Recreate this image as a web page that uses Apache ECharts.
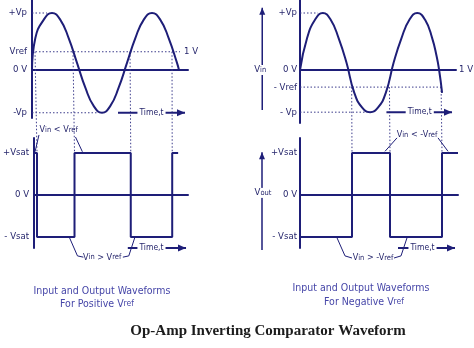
<!DOCTYPE html>
<html>
<head>
<meta charset="utf-8">
<script src="https://cdn.jsdelivr.net/npm/echarts@6/dist/echarts.min.js"></script>
<style>
  html, body { margin: 0; padding: 0; background: #fff; }
  #chart { width: 474px; height: 348px; }
</style>
</head>
<body>
<div id="chart"></div>
<script>
// Time in ms; input normalised so +Vp = 1, output normalised so +Vsat = 1.

// Positive Vref comparator: input sine and switching instants
const posInput = [[0, 0], [0.67, 0.56], [2.33, 0.88], [4.0, 1], [5.67, 0.88], [7.33, 0.56], [9.0, 0.125],
                  [10.67, -0.31], [12.33, -0.63], [14.0, -0.75], [15.67, -0.63], [17.33, -0.31], [19.0, 0.125],
                  [20.67, 0.56], [22.33, 0.88], [24.0, 1], [25.67, 0.88], [27.33, 0.56], [29.0, 0.125], [29.4, 0]];
const posVref = 0.32;
const posVp = 1;
const posVn = -0.75;
const posSwitchTimes = [0.6, 8.2, 19.6, 28.0];
const posOutStart = 1;
const posOutEnd = 29.2;

// Negative Vref comparator
const negInput = [[0, 0], [1.43, 0.56], [3.02, 0.88], [4.6, 1], [6.18, 0.88], [7.77, 0.56], [9.35, 0.13],
                  [10.93, -0.40], [12.52, -0.66], [14.1, -0.74], [15.68, -0.66], [17.27, -0.40], [18.85, 0.13],
                  [20.43, 0.56], [22.02, 0.88], [23.6, 1], [25.18, 0.88], [26.6, 0.56], [27.5, 0.24], [28.0, 0], [28.6, -0.40]];
const negVref = -0.30;
const negVp = 1;
const negVn = -0.74;
const negSwitchTimes = [10.4, 18.0, 28.4];
const negOutStart = -1;
const negOutEnd = 31.6;

// Tick labels
const posInTicks = [[posVp, '+Vp'], [posVref, 'Vref'], [0, '0 V'], [posVn, '-Vp']];
const negInTicks = [[negVp, '+Vp'], [0, '0 V'], [negVref, '- Vref'], [negVn, '- Vp']];
const outTicksLeft = [[1, '+Vsat'], [0, '0 V'], [-1, '- Vsat']];
const outTicksRight = [[1, '+Vsat'], [0, '0 V'], [-1, '- Vsat']];

// Guide line extents (ms)
const posGuideEnds = { vp: 3.0, vref: 29.6, vn: 13.2 };
const negGuideEnds = { vp: 3.6, vref: 28.6, vn: 13.6 };

const INK = '#1e1e78';
const DOT = '#3c3c8c';
const LABEL = '#26266c';
const CAPTION = '#4646a8';
const FONT = "'DejaVu Sans Condensed', 'Liberation Sans', sans-serif";

function squareWave(start, switches, end) {
  let lvl = start;
  const pts = [[0, lvl]];
  switches.forEach(t => { pts.push([t, lvl]); lvl = -lvl; pts.push([t, lvl]); });
  pts.push([end, lvl]);
  return pts;
}

function tickAxis(grid, min, max, ticks, margin) {
  return {
    type: 'value', gridIndex: grid, min: min, max: max,
    axisLine: { show: true, lineStyle: { color: INK, width: 2 } },
    axisTick: { show: false },
    splitLine: { show: false },
    axisLabel: {
      show: true, margin: margin, color: LABEL, fontSize: 9.5, fontFamily: FONT,
      customValues: ticks.map(d => d[0]),
      formatter: v => { const f = ticks.find(d => Math.abs(d[0] - v) < 1e-6); return f ? f[1] : ''; }
    }
  };
}

function timeAxis(grid, max, name) {
  return {
    type: 'value', gridIndex: grid, min: 0, max: max,
    axisLine: { show: true, onZero: true, lineStyle: { color: INK, width: 2 } },
    axisTick: { show: false }, axisLabel: { show: false }, splitLine: { show: false },
    name: name || '', nameLocation: 'end', nameGap: 3,
    nameTextStyle: { color: LABEL, fontSize: 9.5, fontFamily: FONT, align: 'left', verticalAlign: 'middle' }
  };
}

const wave = (name, x, y, data) => ({
  name, type: 'line', xAxisIndex: x, yAxisIndex: y, data, showSymbol: false,
  smooth: 0.5, lineStyle: { color: INK, width: 2 }, z: 4, animation: false
});
const step = (name, x, y, data) => ({
  name, type: 'line', xAxisIndex: x, yAxisIndex: y, data, showSymbol: false,
  lineStyle: { color: INK, width: 2 }, z: 4, animation: false
});
const guide = (x, y, t1, v, endText) => ({
  type: 'line', xAxisIndex: x, yAxisIndex: y, data: [[0, v], [t1, v]], showSymbol: false,
  lineStyle: { color: DOT, width: 1, type: [1.5, 2] }, z: 3, animation: false,
  endLabel: endText ? { show: true, formatter: endText, distance: 4, color: LABEL, fontSize: 9.5, fontFamily: FONT } : { show: false }
});

const option = {
  backgroundColor: '#fff',
  animation: false,
  grid: [
    { left: 32, top: 0, width: 156, height: 118 },
    { left: 32, top: 138, width: 156, height: 110 },
    { left: 300, top: 0, width: 157, height: 123 },
    { left: 300, top: 138, width: 158, height: 110 }
  ],
  xAxis: [
    timeAxis(0, 31.2),
    timeAxis(1, 31.2),
    timeAxis(2, 31.4, '1 V'),
    timeAxis(3, 31.6)
  ],
  yAxis: [
    tickAxis(0, -48 / 57, 70 / 57, posInTicks, 5),
    tickAxis(1, -53 / 42, 57 / 42, outTicksLeft, 5),
    tickAxis(2, -53 / 57, 70 / 57, negInTicks, 3),
    tickAxis(3, -53 / 42, 57 / 42, outTicksRight, 3)
  ],
  series: [
    guide(0, 0, posGuideEnds.vp, posVp),
    guide(0, 0, posGuideEnds.vref, posVref, '1 V'),
    guide(0, 0, posGuideEnds.vn, posVn),
    guide(2, 2, negGuideEnds.vp, negVp),
    guide(2, 2, negGuideEnds.vref, negVref),
    guide(2, 2, negGuideEnds.vn, negVn),
    wave('Vin (positive Vref)', 0, 0, posInput),
    step('Vout (positive Vref)', 1, 1, squareWave(posOutStart, posSwitchTimes, posOutEnd)),
    wave('Vin (negative Vref)', 2, 2, negInput),
    step('Vout (negative Vref)', 3, 3, squareWave(negOutStart, negSwitchTimes, negOutEnd))
  ]
};

const chart = echarts.init(document.getElementById('chart'));
chart.setOption(option);

// Annotations placed in data coordinates of each grid
const P = (g, t, v) => chart.convertToPixel({ gridIndex: g }, [t, v]);
const sub = { s: { fontSize: 7.5, fontFamily: FONT, fill: LABEL, color: LABEL } };
const els = [];

function polyline(pts, opts) {
  els.push({ type: 'polyline', silent: true, z: opts.z || 5,
    shape: { points: pts },
    style: { stroke: opts.color || INK, lineWidth: opts.width || 1, lineDash: opts.dash || null, fill: null } });
}
function head(tip, from, len, half) {
  const dx = tip[0] - from[0], dy = tip[1] - from[1];
  const L = Math.hypot(dx, dy), ux = dx / L, uy = dy / L;
  const bx = tip[0] - ux * len, by = tip[1] - uy * len;
  els.push({ type: 'polygon', silent: true, z: 6,
    shape: { points: [tip, [bx - uy * half, by + ux * half], [bx + uy * half, by - ux * half]] },
    style: { fill: INK } });
}
function label(pt, text, size, color, bg) {
  els.push({ type: 'text', silent: true, z: 8, x: pt[0], y: pt[1],
    style: { text, rich: sub, fontSize: size, fontFamily: FONT, fill: color,
      align: 'center', verticalAlign: 'middle',
      backgroundColor: bg ? '#fff' : null, padding: bg ? [0, 2] : 0 } });
}
function timeArrow(g, t0, t1, v, tText) {
  const a = P(g, t0, v), b = P(g, t1, v);
  polyline([a, b], { width: 2 });
  head(b, a, 8, 3.5);
  label(P(g, tText, v), 'Time,t', 8.5, LABEL, true);
}

// Dotted connectors: switching instant on the input down to the output edge
posSwitchTimes.forEach(t => polyline([P(0, t, posVref), P(1, t, 1)], { color: DOT, dash: [1.5, 2], z: 1 }));
negSwitchTimes.forEach(t => polyline([P(2, t, negVref), P(3, t, 1)], { color: DOT, dash: [1.5, 2], z: 1 }));

// Time axes
timeArrow(0, 17.2, 30.6, posVn, 23.9);
timeArrow(2, 17.4, 30.6, negVn, 24.1);
timeArrow(1, 19.0, 30.8, -53 / 42, 23.8);
timeArrow(3, 19.6, 31.0, -53 / 42, 24.5);

// Switching condition call-outs, positive Vref
label(P(1, 5.0, 1.55), 'V{s|in} < V{s|ref}', 9, LABEL, false);
polyline([P(1, 1.0, 1.43), P(1, 0.2, 1.03)], { width: 1 });
polyline([P(1, 8.4, 1.38), P(1, 9.8, 1.03)], { width: 1 });
label(P(1, 13.8, -1.48), 'V{s|in} > V{s|ref}', 9, LABEL, false);
polyline([P(1, 7.2, -1.02), P(1, 8.8, -1.45), P(1, 10.0, -1.48)], { width: 1 });
polyline([P(1, 18.0, -1.48), P(1, 19.2, -1.45), P(1, 20.4, -1.02)], { width: 1 });

// Switching condition call-outs, negative Vref
label(P(3, 23.4, 1.43), 'V{s|in} < -V{s|ref}', 9, LABEL, false);
polyline([P(3, 19.4, 1.36), P(3, 17.0, 1.04)], { width: 1 });
polyline([P(3, 27.6, 1.36), P(3, 29.6, 1.04)], { width: 1 });
label(P(3, 14.6, -1.50), 'V{s|in} > -V{s|ref}', 9, LABEL, false);
polyline([P(3, 7.4, -1.02), P(3, 9.0, -1.45), P(3, 10.4, -1.50)], { width: 1 });
polyline([P(3, 18.8, -1.50), P(3, 20.2, -1.45), P(3, 21.4, -1.02)], { width: 1 });

// Vin / Vout direction arrows to the left of the negative-Vref plots
{
  const a = P(2, -7.6, -0.70), b = P(2, -7.6, 1.09);
  polyline([a, b], { width: 1.5 });
  head(b, a, 7, 3);
  label(P(2, -8.0, 0), 'V{s|in}', 9.5, LABEL, true);
  const c = P(3, -7.6, -1.31), d = P(3, -7.6, 1.02);
  polyline([c, d], { width: 1.5 });
  head(d, c, 7, 3);
  label(P(3, -7.4, 0.05), 'V{s|out}', 9.5, LABEL, true);
}

// Captions and title
const capRich = { s: { fontSize: 8.5, fontFamily: FONT, fill: CAPTION } };
els.push({ type: 'text', silent: true, x: 102, y: 291,
  style: { text: 'Input and Output Waveforms', fontSize: 10.5, fontFamily: FONT, fill: CAPTION, align: 'center', verticalAlign: 'middle' } });
els.push({ type: 'text', silent: true, x: 97, y: 304,
  style: { text: 'For Positive V{s|ref}', rich: capRich, fontSize: 10.5, fontFamily: FONT, fill: CAPTION, align: 'center', verticalAlign: 'middle' } });
els.push({ type: 'text', silent: true, x: 361, y: 288,
  style: { text: 'Input and Output Waveforms', fontSize: 10.5, fontFamily: FONT, fill: CAPTION, align: 'center', verticalAlign: 'middle' } });
els.push({ type: 'text', silent: true, x: 364, y: 302,
  style: { text: 'For Negative V{s|ref}', rich: capRich, fontSize: 10.5, fontFamily: FONT, fill: CAPTION, align: 'center', verticalAlign: 'middle' } });
els.push({ type: 'text', silent: true, x: 268, y: 331,
  style: { text: 'Op-Amp Inverting Comparator Waveform', fontSize: 15, fontWeight: 'bold',
    fontFamily: "'Liberation Serif', 'DejaVu Serif', serif", fill: '#1c1c1c', align: 'center', verticalAlign: 'middle' } });

chart.setOption({ graphic: { elements: els } });
</script>
</body>
</html>
